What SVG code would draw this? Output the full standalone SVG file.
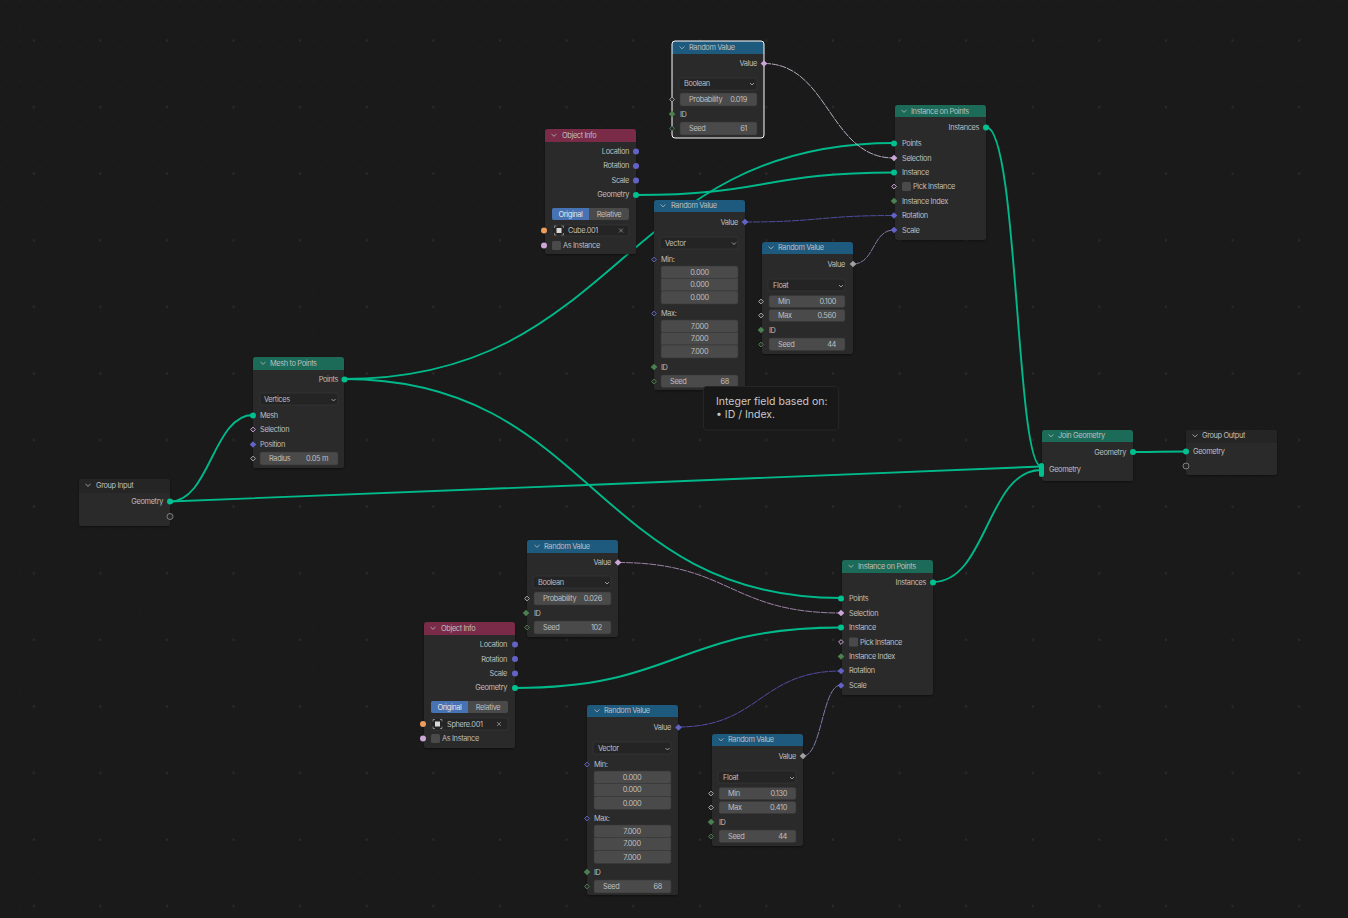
<svg xmlns="http://www.w3.org/2000/svg" width="1348" height="918" viewBox="0 0 1348 918">
<style>
text{font-family:"Inter","Noto Sans","Liberation Sans",sans-serif;font-size:7.4px;letter-spacing:-.36px;fill:#bfbfbf}
.e{text-anchor:end}.c{text-anchor:middle}
.b{fill:#2c2c2c;filter:url(#sh)}
.hb{fill:#1d5a7d}.hg{fill:#1c6b58}.hr{fill:#7a2b47}.hd{fill:#252525}
.dd{fill:#242424;stroke:#3a3a3a;stroke-width:.6}
.f{fill:#4a4a4a;stroke:#383838;stroke-width:.6}
.chev{fill:none;stroke:#b8b8b8;stroke-width:.8}
.gr{fill:#00c090}.pu{fill:#6363c7}.pk{fill:#cca6d6}.gy{fill:#a1a1a1}.dg{fill:#4d8050}.or{fill:#ed9e5c}
.ho{fill:#262626;stroke-width:1}
.hw{stroke:#a8a8a8}.hp{stroke:#cca6d6}.hv{stroke:#6363c7}.hn{stroke:#4d8050}
.l{fill:none;stroke:#00b98b;stroke-width:1.9}
.t{fill:none;stroke-width:.9;stroke-dasharray:7 .8}
.tip{font-size:10.5px;letter-spacing:0;fill:#c8c8c8}
.ic{fill:none;stroke:#bdbdbd;stroke-width:.6}
</style>
<defs>
<pattern id="dots" width="13.32" height="13.32" patternUnits="userSpaceOnUse"><rect x="6.4" y="0" width="1" height="1" fill="#242424"/></pattern>
<pattern id="big" width="66.6" height="66.6" patternUnits="userSpaceOnUse"><rect x="32.8" y="39.4" width="2" height="2" fill="#2c2c2c"/></pattern>
<filter id="sh" x="-10%" y="-10%" width="120%" height="120%"><feDropShadow dx="0" dy="1" stdDeviation="1.2" flood-color="#000" flood-opacity=".45"/></filter>
<path id="d" d="M0-3.3 3.3 0 0 3.3-3.3 0Z"/>
<path id="hd" d="M0-2.4 2.4 0 0 2.4-2.4 0Z"/>
<path id="ck" d="M-2.500-1 0 1.300 2.500-1"/>
<path id="vk" d="M-2-1 0 1 2-1"/>
<path id="br" d="M-4.500-2.500V-4.500H-2.500M2.500-4.500H4.500V-2.500M4.500 2.500V4.500H2.500M-2.500 4.500H-4.500V2.500"/>
</defs>
<rect width="1348" height="918" fill="#1a1a1a"/>
<rect width="1348" height="918" fill="url(#dots)"/>
<rect width="1348" height="918" fill="url(#big)"/>
<g id="connectors">
<path class="l" d="M170 501.500C210 501.500 213 415 253 415"/>
<path class="l" d="M170 501.500C200 500.500 1000 468.500 1041 466.500"/>
<path class="l" d="M344 379C620 379 620 143 894 143"/>
<path class="l" d="M344 379C593 379 593 598 841 598"/>
<path class="l" d="M636 195C765 195 765 172.500 894 172.500"/>
<path class="l" d="M986 127C1018 127 1016 466 1041 466"/>
<path class="l" d="M933 582C987 582 987 470 1041 470"/>
<path class="l" d="M1133 452C1160 452 1160 451.500 1186 451.500"/>
<path class="l" d="M515 688C678 688 678 627.500 841 627.500"/>
<path class="t" stroke="#c8bcd0" d="M764 63.500C829 63.500 829 158 894 158"/>
<path class="t" stroke="#5252a8" d="M745 222C820 222 820 215.500 894 215.500"/>
<path class="t" stroke="#8a86b8" d="M853 264C875 264 872 230 894 230"/>
<path class="t" stroke="#a98cb2" d="M618 562.500C730 562.500 730 613 841 613"/>
<path class="t" stroke="#5a52b0" d="M678 727C760 727 760 671 841 671"/>
<path class="t" stroke="#8a86b8" d="M803 756C822 756 822 685 841 685"/>
</g>

<g id="rv1">
<rect x="672" y="41" width="92" height="97" rx="3" class="b"/>
<path class="hb" d="M672 54V44a3 3 0 0 1 3-3h86a3 3 0 0 1 3 3V54Z"/>
<rect x="672" y="41" width="92" height="97" rx="3" fill="none" stroke="#fff" stroke-width="1"/>
<use href="#ck" x="682" y="47.500" class="chev"/><text x="689" y="50">Random Value</text>
<text x="757" y="66" class="e">Value</text><use href="#d" x="764" y="63.500" class="pk"/>
<rect x="679" y="78" width="78" height="12" rx="2" class="dd"/><text x="684" y="86">Boolean</text><use href="#vk" x="752" y="84" class="chev"/>
<rect x="680" y="93" width="77" height="13" rx="2" class="f"/><text x="689" y="102">Probability</text><text x="747" y="102" class="e">0.019</text>
<use href="#hd" x="672" y="99.500" class="ho hw"/>
<use href="#d" x="672" y="114" class="dg"/><text x="680" y="117">ID</text>
<rect x="680" y="122" width="77" height="13" rx="2" class="f"/><text x="689" y="131">Seed</text><text x="747" y="131" class="e">61</text>
<use href="#hd" x="672" y="128.500" class="ho hn"/>
</g>

<g id="iop1">
<rect x="895" y="105" width="91" height="135" rx="3" class="b"/>
<path class="hg" d="M895 117V108a3 3 0 0 1 3-3h85a3 3 0 0 1 3 3V117Z"/>
<use href="#ck" x="904" y="111" class="chev"/><text x="911" y="114">Instance on Points</text>
<text x="979" y="130" class="e">Instances</text><circle cx="986" cy="127.500" r="3" class="gr"/>
<circle cx="894" cy="143.500" r="3" class="gr"/><text x="902" y="146">Points</text>
<use href="#d" x="894" y="158" class="pk"/><text x="902" y="161">Selection</text>
<circle cx="894" cy="172.500" r="3" class="gr"/><text x="902" y="175">Instance</text>
<use href="#hd" x="894" y="186.500" class="ho hp"/><rect x="902" y="182" width="9" height="9" rx="1.500" fill="#4a4a4a"/><text x="913" y="189">Pick Instance</text>
<use href="#d" x="894" y="201" class="dg"/><text x="902" y="204">Instance Index</text>
<use href="#d" x="894" y="215.500" class="pu"/><text x="902" y="218">Rotation</text>
<use href="#d" x="894" y="230" class="pu"/><text x="902" y="233">Scale</text>
</g>

<g id="obj1">
<rect x="545" y="129" width="91" height="125" rx="3" class="b"/>
<path class="hr" d="M545 142V132a3 3 0 0 1 3-3h85a3 3 0 0 1 3 3V142Z"/>
<use href="#ck" x="554" y="135" class="chev"/><text x="562" y="138">Object Info</text>
<text x="629" y="154" class="e">Location</text><circle cx="636" cy="151.500" r="3" class="pu"/>
<text x="629" y="168" class="e">Rotation</text><circle cx="636" cy="166" r="3" class="pu"/>
<text x="629" y="183" class="e">Scale</text><circle cx="636" cy="180.500" r="3" class="pu"/>
<text x="629" y="197" class="e">Geometry</text><circle cx="636" cy="195" r="3" class="gr"/>
<rect x="552" y="208" width="77" height="12" rx="2" fill="#4a4a4a"/><path d="M589 208H554a2 2 0 0 0-2 2v8a2 2 0 0 0 2 2h35Z" fill="#4772b3"/>
<text x="570.500" y="217" class="c" style="fill:#e6e6e6">Original</text><text x="609" y="217" class="c">Relative</text>
<rect x="552" y="225" width="77" height="11" rx="2" class="dd"/><rect x="556.500" y="228" width="5" height="5" fill="#d8d8d8"/><use href="#br" x="559" y="230.500" class="ic"/><text x="568" y="233">Cube.001</text>
<path d="M619 228.500l4 4m0-4l-4 4" stroke="#a0a0a0" stroke-width=".7"/>
<circle cx="544" cy="230.500" r="3" class="or"/><circle cx="544" cy="245.500" r="3" class="pk"/>
<rect x="552" y="241" width="9" height="9" rx="1.500" fill="#4a4a4a"/><text x="563" y="248">As Instance</text>
</g>

<g id="rv2">
<rect x="654" y="200" width="91" height="190" rx="3" class="b"/>
<path class="hb" d="M654 212V203a3 3 0 0 1 3-3h85a3 3 0 0 1 3 3V212Z"/>
<use href="#ck" x="663" y="205.500" class="chev"/><text x="671" y="208">Random Value</text>
<text x="738" y="225" class="e">Value</text><use href="#d" x="745" y="222" class="pu"/>
<rect x="660" y="237" width="78" height="12" rx="2" class="dd"/><text x="665" y="246">Vector</text><use href="#vk" x="734" y="243.500" class="chev"/>
<use href="#hd" x="654" y="259.500" class="ho hv"/><text x="661" y="262">Min:</text>
<rect x="661" y="266" width="77" height="12.500" rx="2" class="f"/><rect x="661" y="278.500" width="77" height="12.500" class="f"/><rect x="661" y="291" width="77" height="13" rx="2" class="f"/>
<text x="699.500" y="275" class="c">0.000</text><text x="699.500" y="287" class="c">0.000</text><text x="699.500" y="300" class="c">0.000</text>
<use href="#hd" x="654" y="313.500" class="ho hv"/><text x="661" y="316">Max:</text>
<rect x="661" y="320" width="77" height="12.500" rx="2" class="f"/><rect x="661" y="332.500" width="77" height="12.500" class="f"/><rect x="661" y="345" width="77" height="13" rx="2" class="f"/>
<text x="699.500" y="329" class="c">7.000</text><text x="699.500" y="341" class="c">7.000</text><text x="699.500" y="354" class="c">7.000</text>
<use href="#d" x="654" y="367" class="dg"/><text x="661" y="370">ID</text>
<rect x="661" y="375" width="77" height="12.500" rx="2" class="f"/><text x="670" y="384">Seed</text><text x="729" y="384" class="e">68</text>
<use href="#hd" x="654" y="381.500" class="ho hn"/>
</g>

<g id="rv3">
<rect x="762" y="242" width="91" height="112" rx="3" class="b"/>
<path class="hb" d="M762 254V245a3 3 0 0 1 3-3h85a3 3 0 0 1 3 3V254Z"/>
<use href="#ck" x="771" y="247.500" class="chev"/><text x="778" y="250">Random Value</text>
<text x="845" y="267" class="e">Value</text><use href="#d" x="853" y="264" class="gy"/>
<rect x="768" y="279" width="77" height="12" rx="2" class="dd"/><text x="773" y="288">Float</text><use href="#vk" x="841" y="286" class="chev"/>
<rect x="769" y="295.500" width="76" height="12" rx="2" class="f"/><text x="778" y="304">Min</text><text x="836" y="304" class="e">0.100</text><use href="#hd" x="761" y="301.500" class="ho hw"/>
<rect x="769" y="309.500" width="76" height="12" rx="2" class="f"/><text x="778" y="318">Max</text><text x="836" y="318" class="e">0.560</text><use href="#hd" x="761" y="315.500" class="ho hw"/>
<use href="#d" x="761" y="330" class="dg"/><text x="769" y="333">ID</text>
<rect x="769" y="338" width="76" height="12.500" rx="2" class="f"/><text x="778" y="347">Seed</text><text x="836" y="347" class="e">44</text><use href="#hd" x="761" y="344.500" class="ho hn"/>
</g>

<g id="tooltip">
<rect x="703.500" y="386.500" width="135" height="43.500" rx="3" fill="#181818" stroke="#262626"/>
<text x="716" y="405" class="tip">Integer field based on:</text>
<text x="716" y="418" class="tip">• ID / Index.</text>
</g>

<g id="mesh2points">
<rect x="253" y="357" width="91" height="111" rx="3" class="b"/>
<path class="hg" d="M253 370V360a3 3 0 0 1 3-3h85a3 3 0 0 1 3 3V370Z"/>
<use href="#ck" x="263" y="363" class="chev"/><text x="270" y="366">Mesh to Points</text>
<text x="338" y="382" class="e">Points</text><circle cx="344.500" cy="379.500" r="3" class="gr"/>
<rect x="260" y="393" width="78" height="12" rx="2" class="dd"/><text x="264" y="402">Vertices</text><use href="#vk" x="333.500" y="400" class="chev"/>
<circle cx="253" cy="415.500" r="3" class="gr"/><text x="260" y="418">Mesh</text>
<use href="#hd" x="253" y="429.500" class="ho hp"/><text x="260" y="432">Selection</text>
<use href="#d" x="253" y="444.500" class="pu"/><text x="260" y="447">Position</text>
<rect x="260" y="452" width="78" height="13" rx="2" class="f"/><text x="269" y="461">Radius</text><text x="328" y="461" class="e">0.05 m</text>
<use href="#hd" x="253" y="458.500" class="ho hw"/>
</g>

<g id="groupinput">
<rect x="79" y="479" width="91" height="47" rx="3" class="b"/>
<path class="hd" d="M79 493V482a3 3 0 0 1 3-3h85a3 3 0 0 1 3 3V493Z"/>
<use href="#ck" x="88" y="485" class="chev"/><text x="96" y="488">Group Input</text>
<text x="163" y="504" class="e">Geometry</text><circle cx="170" cy="501.500" r="3" class="gr"/>
<circle cx="170" cy="516.500" r="3" fill="#262626" stroke="#8a8a8a" stroke-width=".9"/>
</g>

<g id="joingeometry">
<rect x="1042" y="430" width="91" height="51" rx="3" class="b"/>
<path class="hg" d="M1042 442V433a3 3 0 0 1 3-3h85a3 3 0 0 1 3 3V442Z"/>
<use href="#ck" x="1051" y="435.500" class="chev"/><text x="1058" y="438">Join Geometry</text>
<text x="1126" y="455" class="e">Geometry</text><circle cx="1133" cy="452" r="3" class="gr"/>
<rect x="1039" y="463" width="5" height="14" rx="2.500" class="gr"/><text x="1049" y="472">Geometry</text>
</g>

<g id="groupoutput">
<rect x="1186" y="430" width="91" height="45" rx="3" class="b"/>
<path class="hd" d="M1186 443V433a3 3 0 0 1 3-3h85a3 3 0 0 1 3 3V443Z"/>
<use href="#ck" x="1195" y="435.500" class="chev"/><text x="1202" y="438">Group Output</text>
<circle cx="1186" cy="451.500" r="3" class="gr"/><text x="1193" y="454">Geometry</text>
<circle cx="1186" cy="466" r="3" fill="#262626" stroke="#8a8a8a" stroke-width=".9"/>
</g>

<g id="iop2">
<rect x="842" y="560" width="91" height="135" rx="3" class="b"/>
<path class="hg" d="M842 573V563a3 3 0 0 1 3-3h85a3 3 0 0 1 3 3V573Z"/>
<use href="#ck" x="851" y="566" class="chev"/><text x="858" y="569">Instance on Points</text>
<text x="926" y="585" class="e">Instances</text><circle cx="933" cy="582.500" r="3" class="gr"/>
<circle cx="841" cy="598.500" r="3" class="gr"/><text x="849" y="601">Points</text>
<use href="#d" x="841" y="613" class="pk"/><text x="849" y="616">Selection</text>
<circle cx="841" cy="627.500" r="3" class="gr"/><text x="849" y="630">Instance</text>
<use href="#hd" x="841" y="642" class="ho hp"/><rect x="849" y="637.500" width="9" height="9" rx="1.500" fill="#4a4a4a"/><text x="860" y="645">Pick Instance</text>
<use href="#d" x="841" y="656.500" class="dg"/><text x="849" y="659">Instance Index</text>
<use href="#d" x="841" y="671" class="pu"/><text x="849" y="673">Rotation</text>
<use href="#d" x="841" y="685.500" class="pu"/><text x="849" y="688">Scale</text>
</g>

<g id="rv4">
<rect x="527" y="540" width="91" height="97" rx="3" class="b"/>
<path class="hb" d="M527 553V543a3 3 0 0 1 3-3h85a3 3 0 0 1 3 3V553Z"/>
<use href="#ck" x="537" y="546" class="chev"/><text x="544" y="549">Random Value</text>
<text x="611" y="565" class="e">Value</text><use href="#d" x="618" y="562.500" class="pk"/>
<rect x="533" y="576" width="78" height="12" rx="2" class="dd"/><text x="538" y="585">Boolean</text><use href="#vk" x="607" y="583" class="chev"/>
<rect x="534" y="592" width="77" height="13" rx="2" class="f"/><text x="543" y="601">Probability</text><text x="602" y="601" class="e">0.026</text><use href="#hd" x="527" y="598.500" class="ho hw"/>
<use href="#d" x="526" y="613" class="dg"/><text x="534" y="616">ID</text>
<rect x="534" y="621" width="77" height="13" rx="2" class="f"/><text x="543" y="630">Seed</text><text x="602" y="630" class="e">102</text><use href="#hd" x="527" y="627.500" class="ho hn"/>
</g>

<g id="obj2">
<rect x="424" y="622" width="91" height="126" rx="3" class="b"/>
<path class="hr" d="M424 635V625a3 3 0 0 1 3-3h85a3 3 0 0 1 3 3V635Z"/>
<use href="#ck" x="433" y="628" class="chev"/><text x="441" y="631">Object Info</text>
<text x="507" y="647" class="e">Location</text><circle cx="515" cy="644.500" r="3" class="pu"/>
<text x="507" y="662" class="e">Rotation</text><circle cx="515" cy="659" r="3" class="pu"/>
<text x="507" y="676" class="e">Scale</text><circle cx="515" cy="673.500" r="3" class="pu"/>
<text x="507" y="690" class="e">Geometry</text><circle cx="515" cy="688" r="3" class="gr"/>
<rect x="431" y="701" width="77" height="12" rx="2" fill="#4a4a4a"/><path d="M468 701H433a2 2 0 0 0-2 2v8a2 2 0 0 0 2 2h35Z" fill="#4772b3"/>
<text x="449.500" y="710" class="c" style="fill:#e6e6e6">Original</text><text x="488" y="710" class="c">Relative</text>
<rect x="431" y="718" width="77" height="12" rx="2" class="dd"/><rect x="435" y="721.500" width="5" height="5" fill="#d8d8d8"/><use href="#br" x="437.500" y="724" class="ic"/><text x="447" y="727">Sphere.001</text>
<path d="M497 722l4 4m0-4l-4 4" stroke="#a0a0a0" stroke-width=".7"/>
<circle cx="423" cy="724" r="3" class="or"/><circle cx="423" cy="738.500" r="3" class="pk"/>
<rect x="431" y="734" width="9" height="9" rx="1.500" fill="#4a4a4a"/><text x="442" y="741">As Instance</text>
</g>

<g id="rv5">
<rect x="587" y="705" width="91" height="190" rx="3" class="b"/>
<path class="hb" d="M587 717V708a3 3 0 0 1 3-3h85a3 3 0 0 1 3 3V717Z"/>
<use href="#ck" x="597" y="710.500" class="chev"/><text x="604" y="713">Random Value</text>
<text x="671" y="730" class="e">Value</text><use href="#d" x="678.500" y="727.500" class="pu"/>
<rect x="593" y="742" width="78" height="12" rx="2" class="dd"/><text x="598" y="751">Vector</text><use href="#vk" x="667.500" y="749" class="chev"/>
<use href="#hd" x="587" y="764.500" class="ho hv"/><text x="594" y="767">Min:</text>
<rect x="594" y="771" width="77" height="12.500" rx="2" class="f"/><rect x="594" y="783.500" width="77" height="13" class="f"/><rect x="594" y="796.500" width="77" height="13" rx="2" class="f"/>
<text x="632" y="780" class="c">0.000</text><text x="632" y="792" class="c">0.000</text><text x="632" y="806" class="c">0.000</text>
<use href="#hd" x="587" y="818.500" class="ho hv"/><text x="594" y="821">Max:</text>
<rect x="594" y="825" width="77" height="12.500" rx="2" class="f"/><rect x="594" y="837.500" width="77" height="13" class="f"/><rect x="594" y="850.500" width="77" height="13" rx="2" class="f"/>
<text x="632" y="834" class="c">7.000</text><text x="632" y="846" class="c">7.000</text><text x="632" y="860" class="c">7.000</text>
<use href="#d" x="587" y="872" class="dg"/><text x="594" y="875">ID</text>
<rect x="594" y="880" width="77" height="13" rx="2" class="f"/><text x="603" y="889">Seed</text><text x="662" y="889" class="e">68</text><use href="#hd" x="587" y="886.500" class="ho hn"/>
</g>

<g id="rv6">
<rect x="712" y="734" width="91" height="112" rx="3" class="b"/>
<path class="hb" d="M712 746V737a3 3 0 0 1 3-3h85a3 3 0 0 1 3 3V746Z"/>
<use href="#ck" x="721" y="739.500" class="chev"/><text x="728" y="742">Random Value</text>
<text x="796" y="759" class="e">Value</text><use href="#d" x="803" y="756" class="gy"/>
<rect x="718" y="771" width="78" height="12" rx="2" class="dd"/><text x="723" y="780">Float</text><use href="#vk" x="792" y="778" class="chev"/>
<rect x="719" y="787.500" width="77" height="12" rx="2" class="f"/><text x="728" y="796">Min</text><text x="787" y="796" class="e">0.130</text><use href="#hd" x="711" y="793.500" class="ho hw"/>
<rect x="719" y="801.500" width="77" height="12" rx="2" class="f"/><text x="728" y="810">Max</text><text x="787" y="810" class="e">0.410</text><use href="#hd" x="711" y="807.500" class="ho hw"/>
<use href="#d" x="711" y="822" class="dg"/><text x="719" y="825">ID</text>
<rect x="719" y="830" width="77" height="12.500" rx="2" class="f"/><text x="728" y="839">Seed</text><text x="787" y="839" class="e">44</text><use href="#hd" x="711" y="836.500" class="ho hn"/>
</g>
</svg>
